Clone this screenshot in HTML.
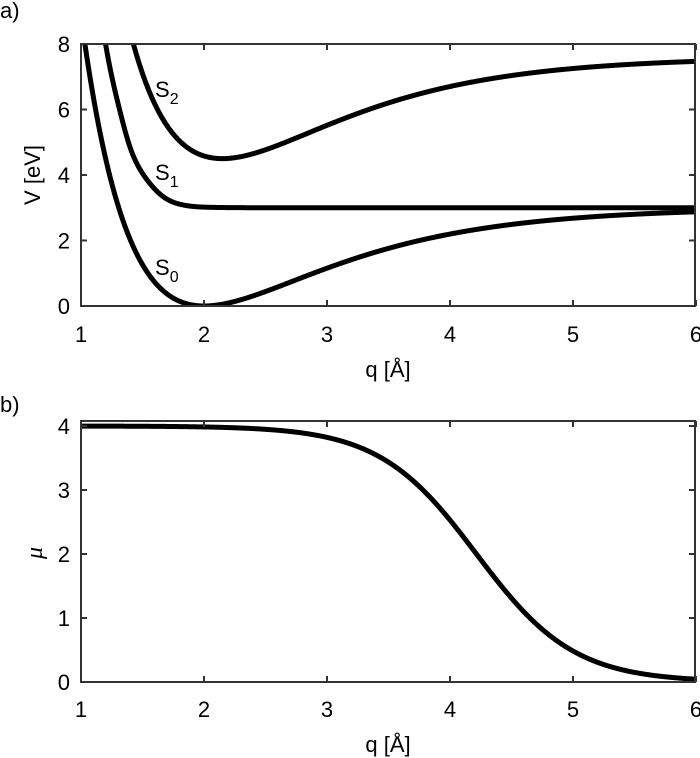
<!DOCTYPE html>
<html><head><meta charset="utf-8"><style>
html,body{margin:0;padding:0;background:#fff;}
svg{display:block;font-family:"Liberation Sans",sans-serif;}
</style></head><body>
<svg id="s" width="700" height="758" viewBox="0 0 700 758" xmlns="http://www.w3.org/2000/svg">
<defs>
<clipPath id="c1"><rect x="81" y="44" width="614" height="262"/></clipPath>
<clipPath id="c2"><rect x="81" y="421" width="614" height="261"/></clipPath>
</defs>
<text x="0" y="18" font-size="22">a)</text>
<text x="0" y="412" font-size="22">b)</text>
<g id="curves" fill="none" stroke="#000" stroke-width="5" stroke-linejoin="round"></g>
<g stroke="#333" stroke-width="2" fill="none">
<rect x="81" y="44" width="614" height="262"/>
<rect x="81" y="421" width="614" height="261"/>
</g>
<g id="ticks" stroke="#333" stroke-width="2"></g>
<g id="labels" font-size="22" fill="#000"></g>
<text x="388" y="377" font-size="22" text-anchor="middle">q [Å]</text>
<text x="388" y="752" font-size="22" text-anchor="middle">q [Å]</text>
<text transform="translate(40,175) rotate(-90)" font-size="22" text-anchor="middle">V [eV]</text>
<text transform="translate(42,553) rotate(-90)" font-size="24" font-style="italic" text-anchor="middle" font-family="Liberation Serif, serif">μ</text>
<text x="155" y="97" font-size="22">S<tspan font-size="16" dy="7">2</tspan></text>
<text x="155" y="180" font-size="22">S<tspan font-size="16" dy="7">1</tspan></text>
<text x="155" y="275" font-size="22">S<tspan font-size="16" dy="7">0</tspan></text>
</svg>
<script>
var NS="http://www.w3.org/2000/svg";
function X(q){return 81+(q-1)*123;}
function Y1(v){return 306-v*32.75;}
function Y2(v){return 682-v*64;}
function add(d,clip){var p=document.createElementNS(NS,"path");p.setAttribute("d",d);p.setAttribute("clip-path","url(#"+clip+")");document.getElementById("curves").appendChild(p);}
function path(f,Y,clip){var d="";for(var i=0;i<=1000;i++){var q=1+5*i/1000;var y=Y(f(q));if(y<-50)y=-50;if(y>900)y=900;d+=(i?"L":"M")+X(q).toFixed(2)+","+y.toFixed(2);}add(d,clip);}
function mono(xs,ys,endSlope){var n=xs.length,dl=[],m=[];
 for(var i=0;i<n-1;i++)dl.push((ys[i+1]-ys[i])/(xs[i+1]-xs[i]));
 m[0]=dl[0];m[n-1]=(endSlope!==undefined)?endSlope:dl[n-2];
 for(var i=1;i<n-1;i++){if(dl[i-1]*dl[i]<=0)m[i]=0;else{var w1=2*(xs[i+1]-xs[i])+(xs[i]-xs[i-1]),w2=(xs[i+1]-xs[i])+2*(xs[i]-xs[i-1]);m[i]=(w1+w2)/(w1/dl[i-1]+w2/dl[i]);}}
 return function(x){
  if(x<=xs[0])return ys[0]+m[0]*(x-xs[0]);
  if(x>=xs[n-1])return ys[n-1]+m[n-1]*(x-xs[n-1]);
  var i=0;while(x>xs[i+1])i++;
  var h=xs[i+1]-xs[i],t=(x-xs[i])/h,t2=t*t,t3=t2*t;
  return (2*t3-3*t2+1)*ys[i]+(t3-2*t2+t)*h*m[i]+(-2*t3+3*t2)*ys[i+1]+(t3-t2)*h*m[i+1];};}
path(function(q){var a=q<2?1.0:0.968;var t=1-Math.exp(-a*(q-2));return 3*t*t;},Y1,"c1");
var s1L=mono([1.2,1.317,1.42,1.585,1.8,1.99,2.3],[1.609,1.08,0.49,-0.46,-2.2,-3.9,-6]);
path(function(q){return 3+Math.exp(s1L(q));},Y1,"c1");
path(function(q){var t=1-Math.exp(-1.0*(q-2.15));return 4.5+3.1*t*t;},Y1,"c1");
path(function(q){return 4/(1+Math.exp((q-4.215)/0.396));},Y2,"c2");
var tk=document.getElementById("ticks"),lb=document.getElementById("labels");
function line(x1,y1,x2,y2){var l=document.createElementNS(NS,"line");l.setAttribute("x1",x1);l.setAttribute("y1",y1);l.setAttribute("x2",x2);l.setAttribute("y2",y2);tk.appendChild(l);}
function txt(x,y,s,a){var t=document.createElementNS(NS,"text");t.setAttribute("x",x);t.setAttribute("y",y);t.setAttribute("text-anchor",a);t.textContent=s;lb.appendChild(t);}
for(var q=1;q<=6;q++){var x=X(q);
 line(x,306,x,300);line(x,44,x,50);txt(x,342,""+q,"middle");
 line(x,682,x,676);line(x,421,x,427);txt(x,717,""+q,"middle");}
for(var v=0;v<=8;v+=2){var y=Y1(v);line(81,y,87,y);line(695,y,689,y);txt(70,y+8,""+v,"end");}
for(var v=0;v<=4;v++){var y=Y2(v);line(81,y,87,y);line(695,y,689,y);txt(70,y+8,""+v,"end");}
</script>
</body></html>
